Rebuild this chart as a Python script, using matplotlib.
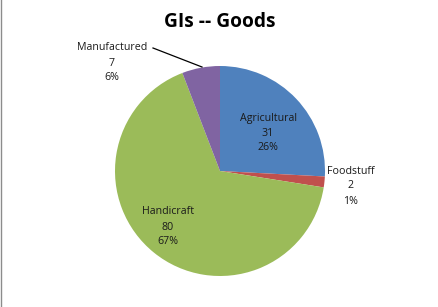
"""
Pie chart of GI registrations for goods.
"""
import matplotlib
matplotlib.use('Agg')
import matplotlib.pyplot as plt

categories = ['Agricultural', 'Foodstuff', 'Handicraft', 'Manufactured']
counts = [31, 2, 80, 7]
pct_labels = ['26%', '1%', '67%', '6%']
colors = ['#4F81BD', '#C0504D', '#9BBB59', '#8064A2']

W, H = 438, 307
cx, cy, r = 220, 171, 105


def main():
    plt.rc('font', family=['Open Sans', 'DejaVu Sans'])

    fig = plt.figure(figsize=(W / 100, H / 100), dpi=100)
    fig.patch.set_facecolor('white')

    # pie axes placed in pixel coords, square
    ax = fig.add_axes([(cx - r) / W, (H - cy - r) / H, 2 * r / W, 2 * r / H])
    ax.pie(counts, colors=colors, startangle=90, counterclock=False,
           radius=1.0, wedgeprops=dict(linewidth=0))
    ax.set_xlim(-1, 1)
    ax.set_ylim(-1, 1)
    ax.set_aspect('auto')
    ax.axis('off')

    fs = 7.7
    # label positions in pixel coords (x, y from top)
    pos = {
        'Agricultural': (268, 133),
        'Foodstuff': (351, 186),
        'Handicraft': (168, 227),
        'Manufactured': (112, 63),
    }
    for name, n, p in zip(categories, counts, pct_labels):
        px, py = pos[name]
        fig.text(px / W, 1 - py / H, '{}\n{}\n{}'.format(name, n, p),
                 ha='center', va='center', fontsize=fs, color='#1a1a1a',
                 linespacing=1.5)

    # leader line for Manufactured
    fig.add_artist(plt.Line2D([153 / W, 202 / W], [1 - 48 / H, 1 - 67 / H],
                              color='black', linewidth=0.9))

    fig.text(220 / W, 1 - 22 / H, 'GIs -- Goods', ha='center', va='center',
             fontsize=13.8, fontweight='bold', color='black')

    # left border line
    fig.add_artist(plt.Line2D([0.5 / W, 0.5 / W], [0, 1], color='#8c8c8c', linewidth=1))

    fig.savefig('out.png', dpi=100)


if __name__ == '__main__':
    main()
